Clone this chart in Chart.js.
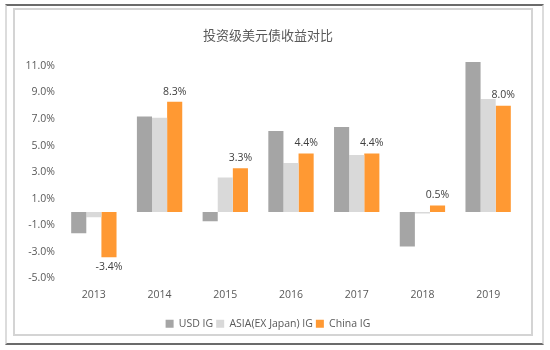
<!DOCTYPE html>
<html>
<head>
<meta charset="utf-8">
<script src="https://cdn.jsdelivr.net/npm/chart.js@4/dist/chart.umd.min.js"></script>
<style>
  html, body { margin: 0; padding: 0; background: #fff; }
  #outer {
    position: absolute; left: 5px; top: 4px; width: 535px; height: 337px;
    border-top: 2px solid #6b6b6b; border-bottom: 2px solid #6b6b6b;
    border-left: 2px solid #dcdcdc; border-right: 2px solid #dcdcdc;
  }
  #inner {
    position: absolute; left: 6px; top: 2px; width: 516px; height: 324px;
    border: 2px solid #d4d4d4; background: #fff;
  }
  canvas { display: block; position: absolute; left: 0; top: 0; }
</style>
</head>
<body>
<div id="outer"><div id="inner"><canvas id="chart" width="516" height="329"></canvas></div></div>
<script>
// values (%)
var years = ['2013', '2014', '2015', '2016', '2017', '2018', '2019'];
var usdIG = [-1.6, 7.2, -0.7, 6.1, 6.4, -2.6, 11.3];
var asiaIG = [-0.4, 7.1, 2.6, 3.7, 4.3, -0.1, 8.5];
var chinaIG = [-3.4, 8.3, 3.3, 4.4, 4.4, 0.5, 8.0];
var yTicks = [-5, -3, -1, 1, 3, 5, 7, 9, 11];

var latin = "'Open Sans', 'Noto Sans CJK SC', sans-serif";

// labels for the China IG bars only
var chinaLabels = {
    id: 'chinaLabels',
    afterDatasetsDraw: function(chart) {
        var ctx = chart.ctx;
        var meta = chart.getDatasetMeta(2);
        ctx.save();
        ctx.font = '10.5px ' + latin;
        ctx.fillStyle = '#404040';
        ctx.textAlign = 'center';
        meta.data.forEach(function(bar, i) {
            var v = chinaIG[i];
            if (v >= 0) {
                ctx.textBaseline = 'bottom';
                ctx.fillText(v.toFixed(1) + '%', bar.x, bar.y - 5);
            } else {
                ctx.textBaseline = 'top';
                ctx.fillText(v.toFixed(1) + '%', bar.x, bar.y + 5);
            }
        });
        ctx.restore();
    }
};

new Chart(document.getElementById('chart'), {
    type: 'bar',
    data: {
        labels: years,
        datasets: [
            { label: 'USD IG', data: usdIG, backgroundColor: '#a5a5a5' },
            { label: 'ASIA(EX Japan) IG', data: asiaIG, backgroundColor: '#d9d9d9' },
            { label: 'China IG', data: chinaIG, backgroundColor: '#ff9933' }
        ]
    },
    options: {
        responsive: false,
        animation: false,
        layout: { padding: { left: 0, right: 10, top: 0, bottom: 0 } },
        datasets: { bar: { barPercentage: 1, categoryPercentage: 0.69 } },
        plugins: {
            title: {
                display: true,
                text: '投资级美元债收益对比',
                color: '#595959',
                font: { family: "'Noto Sans CJK SC', sans-serif", size: 13, weight: 'normal' },
                padding: { top: 17, bottom: 10 }
            },
            legend: {
                position: 'bottom',
                labels: {
                    boxWidth: 8, boxHeight: 8, padding: 3,
                    color: '#595959',
                    font: { family: latin, size: 10.5 }
                }
            },
            tooltip: { enabled: false }
        },
        scales: {
            x: {
                grid: { display: false },
                border: { display: false },
                afterFit: function(axis) { axis.height = 37; },
                ticks: { color: '#595959', font: { family: latin, size: 10.5 }, padding: 2 }
            },
            y: {
                min: -5, max: 12,
                afterBuildTicks: function(axis) {
                    axis.ticks = yTicks.map(function(v) { return { value: v }; });
                },
                afterFit: function(axis) { axis.width = 46; },
                border: { display: false },
                grid: {
                    drawTicks: false,
                    lineWidth: 2,
                    color: function(c) { return c.tick && c.tick.value === 0 ? '#d9d9d9' : 'rgba(0,0,0,0)'; }
                },
                ticks: {
                    color: '#595959', font: { family: latin, size: 10.5 }, padding: 6,
                    callback: function(v) { return v.toFixed(1) + '%'; }
                }
            }
        }
    },
    plugins: [chinaLabels]
});
</script>
</body>
</html>
